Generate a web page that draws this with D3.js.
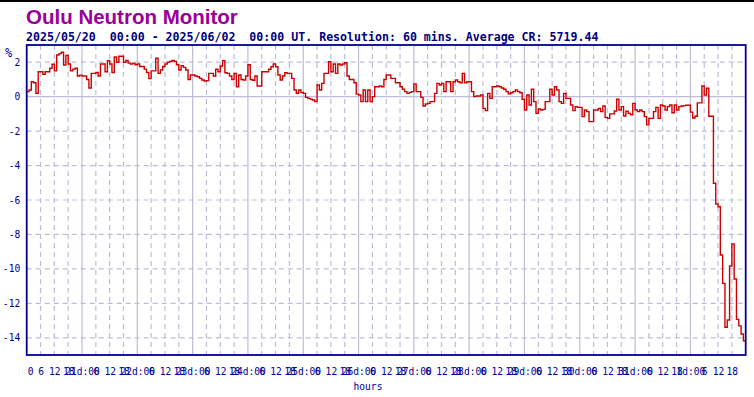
<!DOCTYPE html>
<html>
<meta charset="utf-8">
<style>
 body { margin: 0; background: #fff; }
 svg { display: block; }
 #title_text {
   font-family: "Liberation Sans", Arial, sans-serif;
   font-weight: bold;
   font-size: 20.5px;
   fill: #990099;
 }
 #sub_text {
   font-family: "DejaVu Sans Mono", monospace;
   font-weight: bold;
   font-size: 11.6px;
   fill: #000080;
   white-space: pre;
 }
 .axis text, .unit_text {
   font-family: "DejaVu Sans Mono", monospace;
   font-size: 9.6px;
   fill: #000099;
 }
 #pct_text { font-size: 12px; }
</style>
<body>
  <script src="https://cdn.jsdelivr.net/npm/d3@7/dist/d3.min.js"></script>
  <script>

// hourly relative count rate, %, one array per UT day (24 values)
var may20 = [0.29, 0.39, 0.87, 0.81, 0.19, 1.45, 1.45, 1.3, 1.45, 1.45, 1.65, 1.88, 1.5, 2.42, 2.5, 2.58, 1.84, 2.4, 1.9, 1.5, 1.6, 1.65, 1.2, 1.25];
var may21 = [1.2, 1.2, 1.0, 0.5, 1.35, 1.35, 1.4, 1.2, 1.9, 1.9, 1.45, 2.09, 1.9, 1.4, 2.3, 2.0, 2.35, 2.35, 2.0, 2.1, 1.95, 1.9, 1.95, 1.85];
var may22 = [1.9, 1.75, 1.75, 1.6, 1.4, 1.05, 1.5, 1.5, 2.23, 1.35, 1.55, 1.75, 1.9, 2.0, 2.05, 2.1, 2.05, 1.85, 1.55, 1.8, 1.7, 1.55, 1.0, 1.26];
var may23 = [1.26, 1.2, 1.16, 1.06, 0.97, 0.91, 0.93, 1.35, 1.35, 1.2, 1.59, 1.45, 1.78, 2.09, 1.39, 1.35, 1.2, 1.0, 1.35, 0.58, 1.26, 1.0, 0.97, 1.2];
var may24 = [1.85, 1.0, 0.95, 1.2, 0.62, 0.62, 1.45, 1.45, 1.45, 1.59, 1.74, 1.9, 1.74, 1.26, 0.97, 1.2, 1.39, 1.35, 1.35, 1.06, 0.39, 0.19, 0.39, 0.25];
var may25 = [0.19, -0.04, -0.1, -0.14, -0.19, -0.29, 0.68, 0.39, 0.77, 1.35, 1.35, 2.03, 1.45, 1.9, 1.35, 1.9, 1.84, 1.9, 1.97, 1.2, 1.0, 1.0, 0.81, 0.15];
var may26 = [0.1, -0.29, 0.39, -0.29, 0.39, -0.29, 0, 0.58, 0.58, 0.62, 0.58, 1.0, 1.26, 1.26, 1.06, 1.06, 0.81, 0.81, 0.58, 0.43, 0.29, 0.19, 0.25, 0.29];
var may27 = [0.74, 0.29, 0.29, -0.04, -0.54, -0.43, -0.39, -0.29, -0.29, 0.19, 0.77, 0.68, 0.77, 0.29, 0.87, 0.87, 0.29, 0.87, 0.97, 0.87, 0.81, 1.35, 0.81, 0.87];
var may28 = [0.87, 0.29, 0, 0.04, 0.04, 0.1, -0.68, -0.81, 0.19, -0.1, 0.58, 0.58, 0.62, 0.58, 0.5, 0.43, 0.29, 0.17, 0.23, 0.29, 0.39, 0.29, 0.23, -0.15];
var may29 = [-0.77, 0.1, -0.48, 0.43, -0.29, -0.97, -0.72, -0.77, -0.74, -0.29, -0.29, 0.43, 0.1, 0.58, 0.39, -0.29, -0.39, 0.19, -0.1, -0.1, -0.48, -0.81, -0.58, -0.62];
var may30 = [-0.62, -1.16, -0.77, -0.87, -1.45, -1.45, -0.77, -0.77, -0.68, -0.87, -0.54, -1.2, -1.26, -1.0, -1.0, -0.83, -0.15, -0.77, -0.58, -1.12, -0.85, -0.97, -1.06, -0.39];
var may31 = [-0.77, -0.87, -0.77, -0.87, -1.16, -1.64, -1.26, -1.26, -0.87, -0.62, -1.26, -0.48, -0.54, -0.77, -0.58, -0.48, -0.93, -0.48, -0.77, -0.58, -0.54, -0.52, -0.5, -0.5];
var jun01 = [-0.9, -1.24, -1.14, -0.36, -0.36, 0.62, 0.1, 0.49, -1.14, -1.14, -5.03, -6.23, -6.39, -9.19, -10.84, -13.39, -12.97, -9.83, -8.55, -10.59, -12.93, -13.31, -13.78, -14.17];

var dayLabels = ["0", "21d:00", "22d:00", "23d:00", "24d:00", "25d:00", "26d:00",
                 "27d:00", "28d:00", "29d:00", "30d:00", "31d:00", "1d:00"];
var hourLabels = ["6", "12", "18"];
var yTicks = [-14, -12, -10, -8, -6, -4, -2, 0, 2];

var values = [].concat(may20, may21, may22, may23, may24, may25, may26,
                       may27, may28, may29, may30, may31, jun01);
var nHours = values.length;

var width = 754
var height = 397
// plot box edges (note: "top" is taken by window.top)
var pLeft = 26.7, pRight = 745.7, pTop = 45, pBottom = 355;

var svg = d3.select("body")
      .append("svg")
      .attr("width", width)
      .attr("height", height);

// thin black rule along the top of the image
svg.append("rect")
  .attr("x", 0).attr("y", 0)
  .attr("width", width).attr("height", 2)
  .attr("fill", "#000");

var x = d3.scaleLinear().domain([0, nHours]).range([pLeft, pRight]);
var y = d3.scaleLinear().domain([-15, 3]).range([pBottom, pTop]);

// grid
var vTicks = d3.range(6, nHours, 6);
svg.append("g").selectAll("line")
  .data(vTicks)
  .enter()
  .append("line")
    .attr("x1", function (d) { return x(d); })
    .attr("x2", function (d) { return x(d); })
    .attr("y1", pTop).attr("y2", pBottom)
    .attr("stroke", "#bdbddb")
    .attr("stroke-width", 1.2)
    .attr("stroke-dasharray", function (d) { return d % 24 === 0 ? null : "5,4"; });

svg.append("g").selectAll("line")
  .data(yTicks)
  .enter()
  .append("line")
    .attr("x1", pLeft).attr("x2", pRight)
    .attr("y1", function (d) { return y(d); })
    .attr("y2", function (d) { return y(d); })
    .attr("stroke", "#bdbddb")
    .attr("stroke-width", 1.2)
    .attr("stroke-dasharray", function (d) { return d === 0 ? null : "5,4"; });

// data, drawn as steps, one per hour
var pts = values.map(function (v, i) { return [i, v]; });
pts.push([nHours, values[nHours - 1]]);

var line = d3.line()
  .x(function (d) { return x(d[0]); })
  .y(function (d) { return y(d[1]); })
  .curve(d3.curveStepAfter);

svg.append("path")
  .datum(pts)
  .attr("d", line)
  .attr("fill", "none")
  .attr("stroke", "#cc0000")
  .attr("stroke-width", 1.4);

// frame
svg.append("rect")
  .attr("x", pLeft).attr("y", pTop)
  .attr("width", pRight - pLeft).attr("height", pBottom - pTop)
  .attr("fill", "none")
  .attr("stroke", "#000099")
  .attr("stroke-width", 1.8);

// axes
var xAxis = d3.axisBottom(x)
  .tickValues(d3.range(0, nHours, 6))
  .tickSize(0)
  .tickPadding(13)
  .tickFormat(function (d) {
    return d % 24 === 0 ? dayLabels[d / 24] : hourLabels[(d % 24) / 6 - 1];
  });

var gx = svg.append("g")
  .attr("class", "axis")
  .attr("transform", "translate(0," + pBottom + ")")
  .call(xAxis);
gx.select(".domain").remove();
gx.selectAll("text")
  .filter(function (d) { return d === 0; })
  .attr("text-anchor", "start")
  .attr("dx", 0.5);

var yAxis = d3.axisLeft(y)
  .tickValues(yTicks)
  .tickSize(0)
  .tickPadding(6.5)
  .tickFormat(function (d) { return String(d); });

var gy = svg.append("g")
  .attr("class", "axis")
  .attr("transform", "translate(" + pLeft + ",0)")
  .call(yAxis);
gy.select(".domain").remove();

// texts
svg.append("text")
  .attr("id", "title_text")
  .attr("x", 26)
  .attr("y", 24)
  .text("Oulu Neutron Monitor");

svg.append("text")
  .attr("id", "sub_text")
  .attr("x", 26)
  .attr("y", 40.5)
  .text("2025/05/20  00:00 - 2025/06/02  00:00 UT. Resolution: 60 mins. Average CR: 5719.44");

svg.append("text")
  .attr("class", "unit_text")
  .attr("id", "pct_text")
  .attr("x", 5)
  .attr("y", 57)
  .text("%");

svg.append("text")
  .attr("class", "unit_text")
  .attr("x", 368)
  .attr("y", 390)
  .attr("text-anchor", "middle")
  .text("hours");

  </script>
</body>
</html>
